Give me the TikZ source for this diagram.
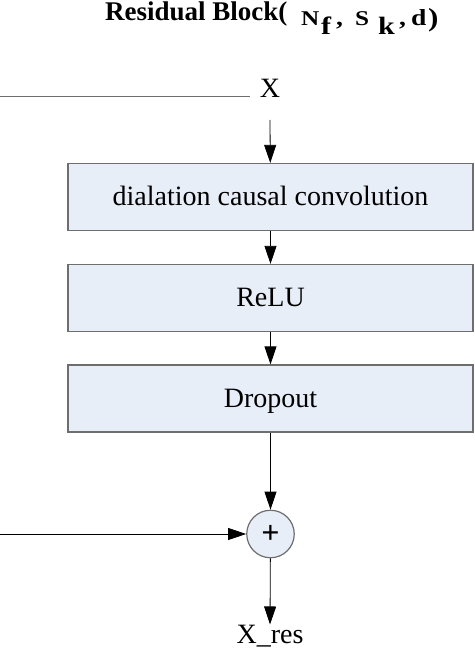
\documentclass[tikz,border=0pt]{standalone}
\usepackage{graphicx}
\usepackage{fontspec}
\setmainfont{Liberation Serif}
\definecolor{boxfill}{RGB}{232,238,248}
\definecolor{boxline}{RGB}{110,110,110}
\usetikzlibrary{arrows.meta,positioning}
\newcommand{\wide}[2]{\scalebox{1.2}[1]{\fontsize{#1}{#1}\selectfont #2}}

\begin{document}
\begin{tikzpicture}[x=1pt, y=-1pt,
      arr/.style={-{Triangle[length=18pt,width=12pt]}, black, line width=0.8pt},
      layer/.style={draw=boxline, line width=1.2pt, fill=boxfill,
                    minimum width=405pt, minimum height=67pt, inner sep=0pt,
                    text height=21pt, text depth=4pt,
                    font=\fontsize{28}{32}\selectfont},
      lbl/.style={font=\fontsize{28}{32}\selectfont, inner sep=0pt},
      tt/.style={anchor=base west, inner sep=0pt, font=\bfseries}
    ]
    \useasboundingbox (0,0) rectangle (474,650);
    % title
    \node[tt, font=\bfseries\fontsize{27}{30}\selectfont] (title) at (105,21) {Residual Block(};
    \node[tt] (tN) at (301,26) {\wide{21}{N}};
    \node[tt] (tf) at (321,35) {\wide{25}{f}};
    \node[tt] (tc1) at (336,26) {\wide{23}{,}};
    \node[tt] (tS) at (355,26) {\wide{21}{S}};
    \node[tt] (tk) at (378,35) {\wide{25}{k}};
    \node[tt] (tc2) at (399,26) {\wide{23}{,}};
    \node[tt] (td) at (411,26) {\wide{23}{d}};
    \node[tt] (tp) at (428,27) {\wide{26}{)}};
    \node[lbl, anchor=base] (x) at (270,98) {X};
    \coordinate (xin) at (270,120);
    \coordinate (skipa) at (0,96);
    \coordinate (skipb) at (250,96);
    \node[layer] (conv) at (270.5,197) {dialation causal convolution};
    \node[layer] (relu) at (270.5,298) {ReLU};
    \node[layer] (drop) at (270.5,398.5) {Dropout};
    \node[circle, draw=boxline, line width=1.2pt, fill=boxfill, minimum size=47.5pt,
          inner sep=0pt, font=\bfseries\fontsize{32}{34}\selectfont] (add) at (270.5,534) {+};
    \coordinate (skipc) at (0,534);
    \node[lbl, anchor=base] (out) at (270,643) {X\_res};

    \draw[boxline, line width=0.9pt] (skipa) -- (skipb);
    \draw[arr] (xin) -- (conv);
    \draw[arr] (conv) -- (relu);
    \draw[arr] (relu) -- (drop);
    \draw[arr] (drop) -- (add);
    \draw[arr] (skipc) -- (add);
    \draw[arr] (add) -- (out.north);
  \end{tikzpicture}
\end{document}
